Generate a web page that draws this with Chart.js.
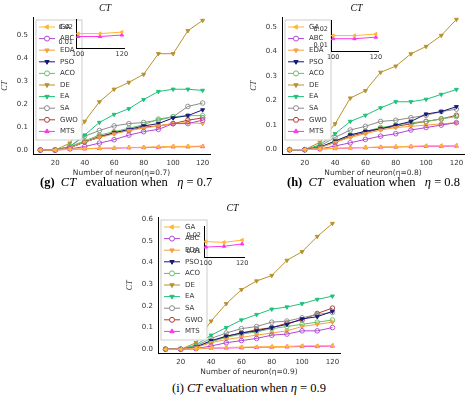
<!DOCTYPE html>
<html><head><meta charset="utf-8">
<script src="https://cdn.jsdelivr.net/npm/chart.js@4/dist/chart.umd.min.js"></script>
<style>
body{margin:0;background:#fff;width:474px;height:401px;position:relative;overflow:hidden}
canvas{position:absolute}
.cap{position:absolute;font-family:"Liberation Serif",serif;font-size:12.5px;color:#000;white-space:nowrap}
.cap i{font-style:italic}
</style></head><body>
<canvas id="m1" style="left:0;top:0" width="237" height="178"></canvas>
<canvas id="m2" style="left:249px;top:0" width="225" height="178"></canvas>
<canvas id="m3" style="left:125px;top:200px" width="225" height="177"></canvas>
<canvas id="i1" style="left:54px;top:14px" width="75" height="44"></canvas>
<canvas id="i2" style="left:309px;top:15px" width="74" height="46"></canvas>
<canvas id="i3" style="left:182px;top:221px" width="67" height="46"></canvas>
<div class="cap" style="left:40px;top:175px"><b>(g)</b>&nbsp; <i>CT</i>&nbsp;&nbsp; evaluation when&nbsp;&nbsp; <i>η</i> = 0.7</div>
<div class="cap" style="left:287px;top:175px"><b>(h)</b>&nbsp; <i>CT</i>&nbsp;&nbsp; evaluation when&nbsp;&nbsp; <i>η</i> = 0.8</div>
<div class="cap" style="left:172px;top:381px">(i) <i>CT</i> evaluation when <i>η</i> = 0.9</div>
<script>
const neurons = [10,20,30,40,50,60,70,80,90,100,110,120];
const insetX = [100,110,120];
const algNames = ['GA','ABC','EDA','PSO','ACO','DE','EA','SA','GWO','MTS'];
const algColors = ['#ffb733','#b044d4','#f5a040','#18187a','#66c266','#b8922c','#1fc17a','#8a8a8a','#b03a2e','#ff33ee'];
const algMarkers = ['triangle','circle','triangle','triangle','circle','triangle','triangle','circle','circle','triangle'];
const algRot = [270,0,180,180,0,180,180,0,0,0];

// eta = 0.7
const ct07 = {
  GA:  [0,0,0.003,0.006,0.008,0.009,0.011,0.012,0.014,0.016,0.016,0.017],
  ABC: [0,0,0.005,0.015,0.03,0.045,0.065,0.08,0.09,0.115,0.115,0.13],
  EDA: [0,0,0.01,0.035,0.055,0.07,0.085,0.095,0.105,0.115,0.12,0.115],
  PSO: [0,0,0.01,0.035,0.055,0.075,0.09,0.105,0.115,0.14,0.15,0.175],
  ACO: [0,0,0.015,0.04,0.065,0.08,0.095,0.11,0.135,0.145,0.15,0.15],
  DE:  [0,0,0.03,0.125,0.21,0.265,0.295,0.33,0.42,0.42,0.52,0.565],
  EA:  [0,0,0.015,0.065,0.12,0.155,0.18,0.22,0.255,0.265,0.265,0.26],
  SA:  [0,0,0.015,0.06,0.085,0.105,0.115,0.12,0.13,0.145,0.19,0.205],
  GWO: [0,0,0.01,0.035,0.06,0.075,0.085,0.1,0.105,0.115,0.13,0.14],
  MTS: [0,0,0.003,0.005,0.007,0.008,0.01,0.011,0.012,0.014,0.014,0.015]
};
// eta = 0.8
const ct08 = {
  GA:  [0,0,0.003,0.006,0.008,0.009,0.011,0.012,0.014,0.016,0.016,0.017],
  ABC: [0,0,0.003,0.015,0.028,0.042,0.055,0.065,0.08,0.09,0.1,0.11],
  EDA: [0,0,0.008,0.03,0.05,0.065,0.08,0.09,0.095,0.1,0.105,0.11],
  PSO: [0,0,0.01,0.035,0.06,0.075,0.085,0.1,0.115,0.145,0.155,0.175],
  ACO: [0,0,0.01,0.035,0.06,0.075,0.09,0.1,0.11,0.115,0.125,0.135],
  DE:  [0,0,0.03,0.105,0.21,0.24,0.315,0.34,0.39,0.42,0.465,0.53],
  EA:  [0,0,0.02,0.065,0.115,0.14,0.17,0.195,0.195,0.205,0.225,0.245],
  SA:  [0,0,0.015,0.05,0.08,0.095,0.115,0.12,0.13,0.14,0.155,0.165],
  GWO: [0,0,0.01,0.03,0.055,0.07,0.085,0.095,0.105,0.115,0.125,0.14],
  MTS: [0,0,0.003,0.005,0.007,0.008,0.01,0.011,0.012,0.014,0.014,0.015]
};
// eta = 0.9
const ct09 = {
  GA:  [0,0,0.003,0.006,0.008,0.01,0.011,0.012,0.013,0.016,0.016,0.017],
  ABC: [0,0,0.003,0.015,0.03,0.04,0.05,0.065,0.07,0.085,0.085,0.1],
  EDA: [0,0,0.008,0.03,0.045,0.055,0.065,0.075,0.085,0.105,0.115,0.125],
  PSO: [0,0,0.01,0.04,0.06,0.075,0.085,0.1,0.115,0.14,0.15,0.175],
  ACO: [0,0,0.01,0.035,0.055,0.07,0.08,0.095,0.105,0.115,0.125,0.135],
  DE:  [0,0,0.03,0.13,0.21,0.275,0.315,0.34,0.41,0.45,0.52,0.58],
  EA:  [0,0,0.02,0.065,0.1,0.135,0.16,0.185,0.195,0.21,0.23,0.245],
  SA:  [0,0,0.015,0.05,0.075,0.095,0.105,0.125,0.13,0.145,0.16,0.17],
  GWO: [0,0,0.01,0.035,0.06,0.075,0.09,0.1,0.12,0.135,0.165,0.19],
  MTS: [0,0,0.002,0.005,0.006,0.007,0.009,0.01,0.011,0.013,0.013,0.015]
};
const insetGA = [[0.016,0.016,0.017],[0.016,0.016,0.017],[0.016,0.0155,0.017]];
const insetMTS = [[0.014,0.014,0.015],[0.014,0.014,0.015],[0.0125,0.013,0.0145]];

const FONT = 'DejaVu Sans';
const filled = m => m === 'triangle';

const legendBox = {
  id: 'legendBox',
  afterDraw(chart) {
    const c = chart.ctx, a = chart.chartArea;
    const x0 = a.left + 3, y0 = a.top + 3, rowH = 11.6, w = 46;
    c.save();
    c.fillStyle = 'rgba(255,255,255,0.9)';
    c.strokeStyle = '#ccc'; c.lineWidth = 1;
    c.fillRect(x0, y0, w, rowH * algNames.length + 4);
    c.strokeRect(x0, y0, w, rowH * algNames.length + 4);
    c.font = '7px ' + FONT; c.textBaseline = 'middle';
    algNames.forEach((n, i) => {
      const y = y0 + 7 + i * rowH;
      c.strokeStyle = algColors[i]; c.lineWidth = 1;
      c.beginPath(); c.moveTo(x0 + 3, y); c.lineTo(x0 + 19, y); c.stroke();
      c.fillStyle = filled(algMarkers[i]) ? algColors[i] : '#fff';
      Chart.helpers.drawPoint(c, {pointStyle: algMarkers[i], radius: 2.5, rotation: algRot[i], borderWidth: 1}, x0 + 11, y);
      c.fillStyle = '#333'; c.fillText(n, x0 + 24, y);
    });
    c.restore();
  }
};

function mainChart(id, data, eta, ymax, padRight) {
  const ds = algNames.map((n, i) => ({
    label: n, data: data[n], borderColor: algColors[i], backgroundColor: algColors[i],
    pointBackgroundColor: filled(algMarkers[i]) ? algColors[i] : 'rgba(255,255,255,0)',
    borderWidth: 1, pointStyle: algMarkers[i], pointRotation: algRot[i], pointRadius: 2.3, pointBorderWidth: 0.9
  }));
  new Chart(document.getElementById(id), {
    type: 'line',
    data: {labels: neurons, datasets: ds},
    options: {
      responsive: false, animation: false,
      layout: {padding: {right: padRight, top: 0}},
      plugins: {
        legend: {display: false}, tooltip: {enabled: false},
        title: {display: true, text: 'CT', font: {family: 'Liberation Serif', size: 10, style: 'italic', weight: 'normal'}, color: '#111', padding: {top: 2, bottom: 3}}
      },
      scales: {
        x: {type: 'linear', min: 5, max: 125, grid: {display: false, drawTicks: true, tickLength: 3},
            border: {color: '#000'},
            afterBuildTicks: s => { s.ticks = [20,40,60,80,100,120].map(v => ({value: v})); },
            ticks: {font: {family: FONT, size: 7}, color: '#333', padding: 1},
            title: {display: true, text: 'Number of neuron(η=' + eta + ')', font: {family: FONT, size: 7.5}, color: '#333', padding: {top: 1, bottom: 0}}},
        y: {min: -0.02, max: ymax, grid: {display: false, tickLength: 3}, border: {color: '#000'},
            afterBuildTicks: s => { const t = []; for (let v = 0; v <= ymax + 1e-9; v += 0.1) t.push({value: +v.toFixed(1)}); s.ticks = t; },
            afterFit: s => { s.width = 33; },
            ticks: {font: {family: FONT, size: 7}, color: '#333', padding: 2, callback: v => v.toFixed(1)},
            title: {display: true, text: 'CT', font: {family: 'Liberation Serif', size: 8, style: 'italic'}, color: '#333', padding: 0}}
      }
    },
    plugins: [legendBox]
  });
}

function insetChart(id, k) {
  new Chart(document.getElementById(id), {
    type: 'line',
    data: {datasets: [
      {data: insetX.map((x, i) => ({x, y: insetGA[k][i]})), borderColor: algColors[0], backgroundColor: algColors[0], borderWidth: 1, pointStyle: 'triangle', pointRotation: 270, pointRadius: 2},
      {data: insetX.map((x, i) => ({x, y: insetMTS[k][i]})), borderColor: algColors[9], backgroundColor: algColors[9], borderWidth: 1, pointStyle: 'triangle', pointRadius: 2}
    ]},
    options: {
      responsive: false, animation: false,
      layout: {padding: {right: 4, top: 1}},
      plugins: {legend: {display: false}, tooltip: {enabled: false}},
      scales: {
        x: {type: 'linear', min: 99, max: 121, grid: {display: false, tickLength: 2}, border: {color: '#000'},
            afterBuildTicks: s => { s.ticks = [{value: 100}, {value: 120}]; },
            ticks: {font: {family: FONT, size: 6.5}, color: '#333', padding: 0, maxRotation: 0}},
        y: {min: 0.006, max: 0.026, grid: {display: false, tickLength: 2}, border: {color: '#000'},
            afterBuildTicks: s => { s.ticks = [{value: 0.01}, {value: 0.02}]; },
            afterFit: s => { s.width = 22; },
            ticks: {font: {family: FONT, size: 6.5}, color: '#333', padding: 1, callback: v => v.toFixed(2)}}
      }
    }
  });
}

mainChart('m1', ct07, 0.7, 0.58, 27);
mainChart('m2', ct08, 0.8, 0.54, 10);
mainChart('m3', ct09, 0.9, 0.61, 10);
insetChart('i1', 0);
insetChart('i2', 1);
insetChart('i3', 2);
</script>
</body></html>
